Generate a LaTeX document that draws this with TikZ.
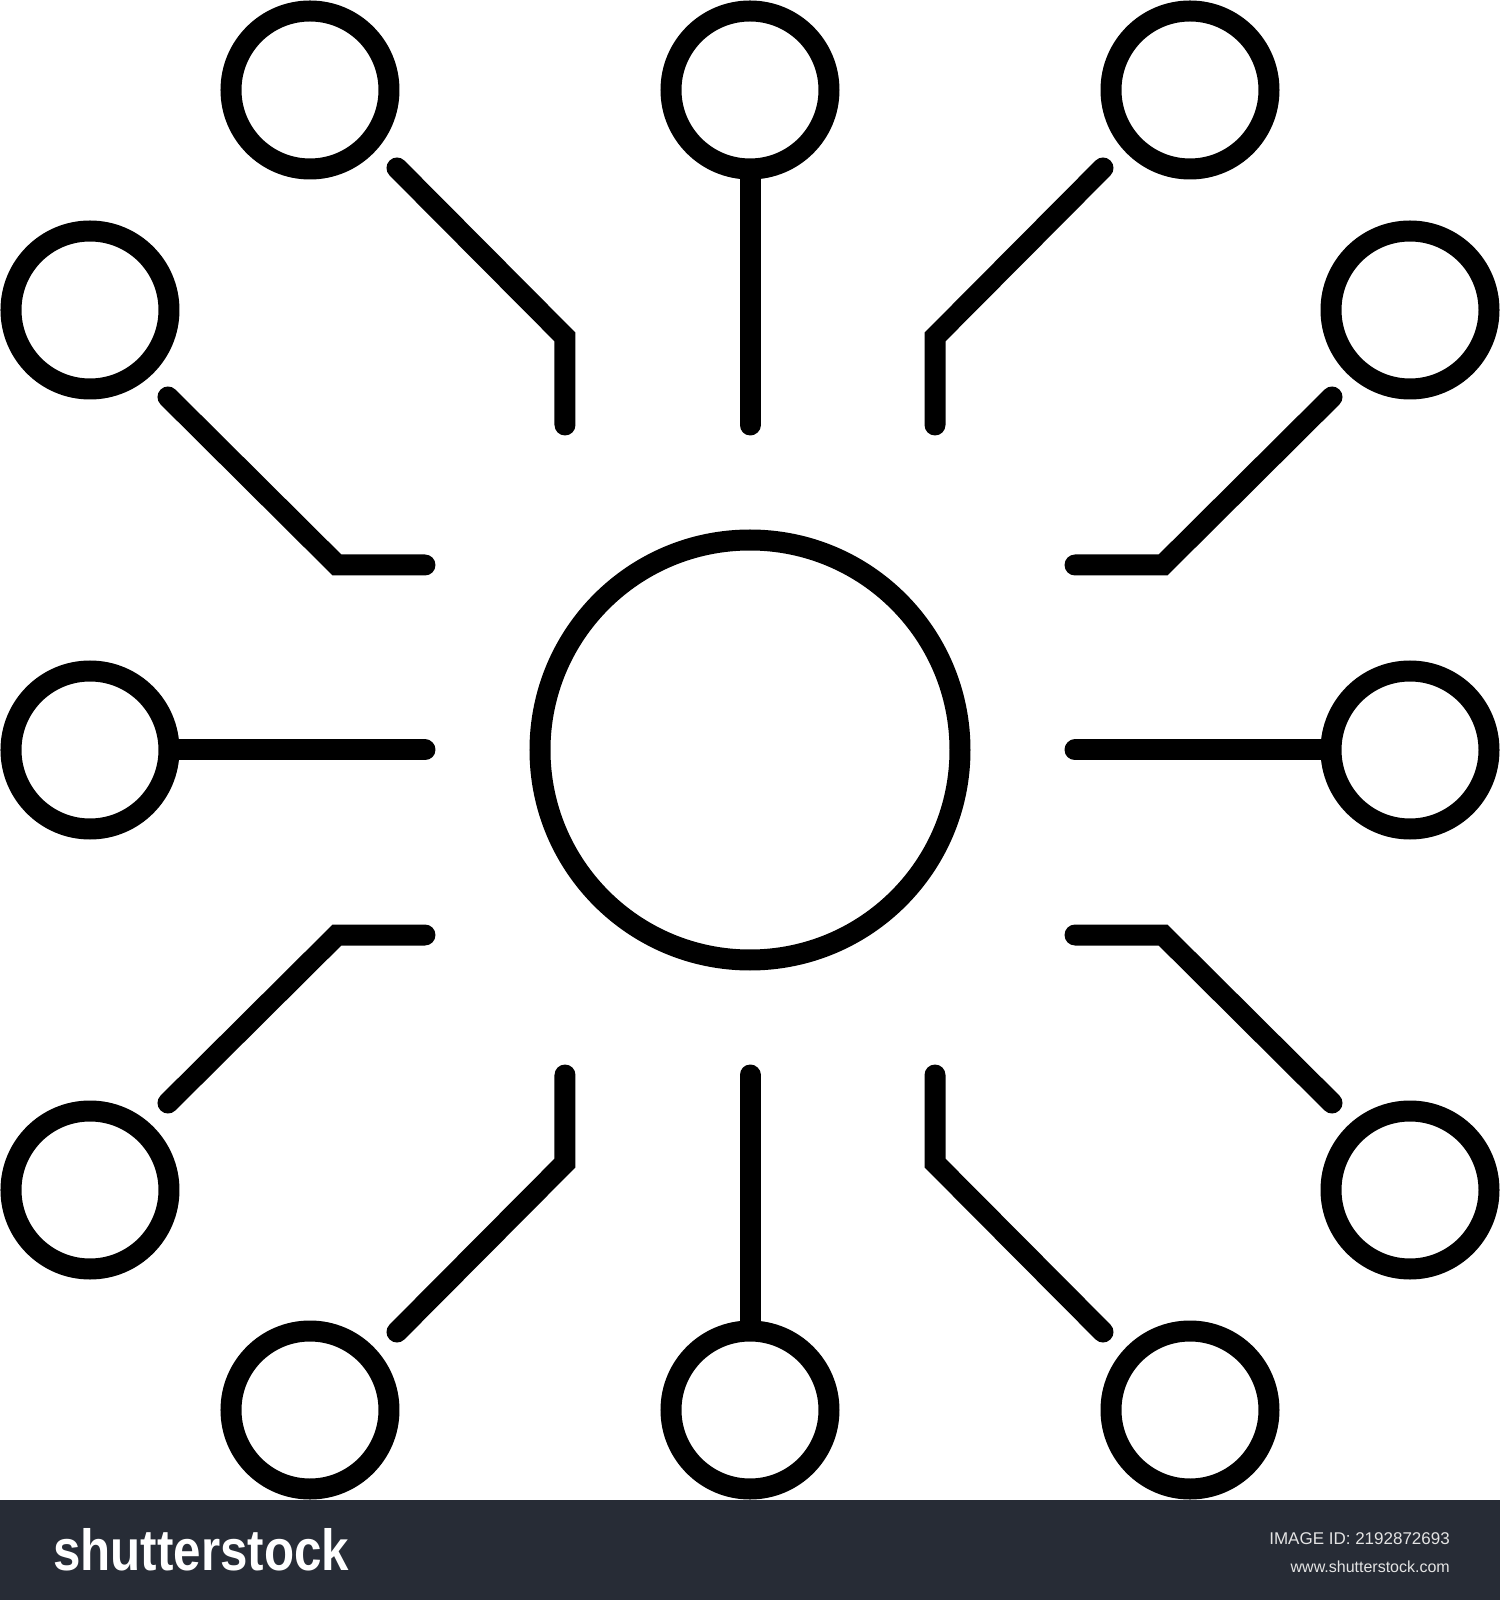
\documentclass[tikz,border=0pt]{standalone}
\usepackage{fontspec}
\usepackage{graphicx}
\setmainfont{Liberation Sans}
\definecolor{barbg}{HTML}{272C36}
\definecolor{bartext}{HTML}{E4E4E4}
\begin{document}
\begin{tikzpicture}[x=1pt,y=-1pt,
  sat/.style={circle,draw=black,line width=21pt,minimum size=158pt,inner sep=0pt},
  hub/.style={circle,draw=black,line width=21pt,minimum size=420pt,inner sep=0pt},
  wire/.style={draw=black,line width=21pt,line cap=round,line join=miter}]
\useasboundingbox (-750,-750) rectangle (750,850);
\fill[white] (-750,-750) rectangle (750,750);

% hub
\node[hub] (hub) at (0,0) {};

% satellites
\node[sat] (T1) at (-440,-660) {};
\node[sat] (T2) at (0,-660) {};
\node[sat] (T3) at (440,-660) {};
\node[sat] (R1) at (660,-440) {};
\node[sat] (R2) at (660,0) {};
\node[sat] (R3) at (660,440) {};
\node[sat] (B3) at (440,660) {};
\node[sat] (B2) at (0,660) {};
\node[sat] (B1) at (-440,660) {};
\node[sat] (L3) at (-660,440) {};
\node[sat] (L2) at (-660,0) {};
\node[sat] (L1) at (-660,-440) {};

% branch points
\coordinate (t1a) at (-353,-582); \coordinate (t1b) at (-185,-413); \coordinate (t1c) at (-185,-325);
\coordinate (t2c) at (0,-325);
\coordinate (t3a) at (353,-582);  \coordinate (t3b) at (185,-413);  \coordinate (t3c) at (185,-325);
\coordinate (r1a) at (582,-353);  \coordinate (r1b) at (413,-185);  \coordinate (r1c) at (325,-185);
\coordinate (r2c) at (325,0);
\coordinate (r3a) at (582,353);   \coordinate (r3b) at (413,185);   \coordinate (r3c) at (325,185);
\coordinate (b3a) at (353,582);   \coordinate (b3b) at (185,413);   \coordinate (b3c) at (185,325);
\coordinate (b2c) at (0,325);
\coordinate (b1a) at (-353,582);  \coordinate (b1b) at (-185,413);  \coordinate (b1c) at (-185,325);
\coordinate (l3a) at (-582,353);  \coordinate (l3b) at (-413,185);  \coordinate (l3c) at (-325,185);
\coordinate (l2c) at (-325,0);
\coordinate (l1a) at (-582,-353); \coordinate (l1b) at (-413,-185); \coordinate (l1c) at (-325,-185);

% connectors
\draw[wire] (t1a) -- (t1b) -- (t1c);
\draw[wire] (T2.south) -- (t2c);
\draw[wire] (t3a) -- (t3b) -- (t3c);
\draw[wire] (r1a) -- (r1b) -- (r1c);
\draw[wire] (R2.west) -- (r2c);
\draw[wire] (r3a) -- (r3b) -- (r3c);
\draw[wire] (b3a) -- (b3b) -- (b3c);
\draw[wire] (B2.north) -- (b2c);
\draw[wire] (b1a) -- (b1b) -- (b1c);
\draw[wire] (l3a) -- (l3b) -- (l3c);
\draw[wire] (L2.east) -- (l2c);
\draw[wire] (l1a) -- (l1b) -- (l1c);

% bottom bar
\fill[barbg] (-750,750) rectangle (750,850);
\node[anchor=base west,text=white,inner sep=0pt,font=\fontsize{58pt}{60pt}\selectfont\bfseries] (logo) at (-697,820) {\scalebox{0.85}[1]{shutterstock}};
\node[anchor=base east,text=bartext,inner sep=0pt,font=\fontsize{17pt}{19pt}\selectfont] (imgid) at (700,794) {IMAGE ID: 2192872693};
\node[anchor=base east,text=bartext,inner sep=0pt,font=\fontsize{16pt}{18pt}\selectfont] (url) at (700,822) {www.shutterstock.com};
\end{tikzpicture}
\end{document}
